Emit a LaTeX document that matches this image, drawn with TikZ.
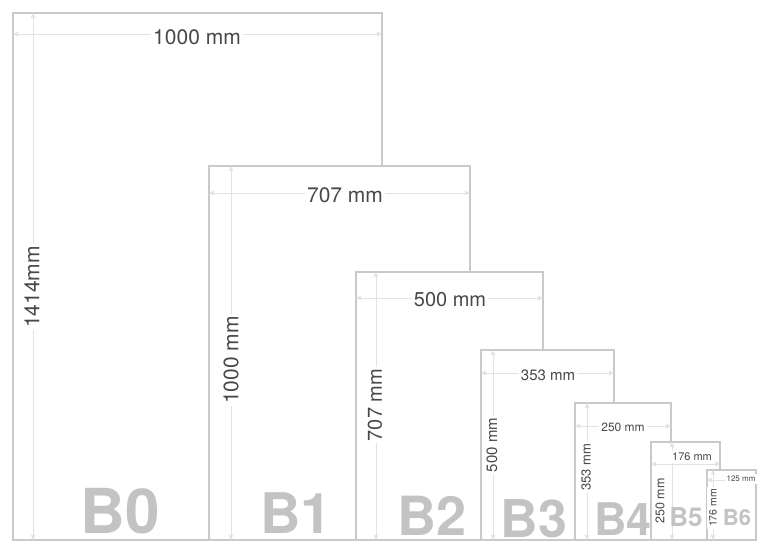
\documentclass[tikz,border=0pt]{standalone}
\usepackage{fontspec}
\setmainfont{TeX Gyre Heros}
\usepackage{tikz}
\usetikzlibrary{arrows,positioning}

\definecolor{sheetgray}{HTML}{C9C9C9}
\definecolor{dimgray}{HTML}{E2E2E2}
\definecolor{textgray}{HTML}{484848}
\definecolor{namegray}{HTML}{C3C3C3}
\newcommand{\fsz}[1]{\fontsize{#1}{#1}\selectfont}

\begin{document}
\begin{tikzpicture}[x=1pt,y=-1pt,sheet/.style={draw=sheetgray, fill=white, line width=1.3pt}]
        \tikzstyle{dimline} = [draw=dimgray, line width=0.9pt, <->, >=stealth']
        \tikzstyle{dimtext} = [fill=white, text=textgray, inner sep=2pt]
        \tikzstyle{sizename} = [text=namegray, anchor=base, inner sep=0pt]
        \useasboundingbox (0,0) rectangle (768,552);

        % B0
        \draw[sheet] (13,13) rectangle (382,540);
        \coordinate (b0l) at (13,34);
        \coordinate (b0r) at (382,34);
        \coordinate (b0t) at (33,13);
        \coordinate (b0b) at (33,540);
        \draw[dimline] (b0l) -- (b0r);
        \draw[dimline] (b0t) -- (b0b);
        \node[dimtext, font=\fsz{21}] (b0w) at (197,37) {1000 mm};
        \node[dimtext, font=\fsz{21}, rotate=90] (b0h) at (32,287) {1414mm};
        \node[sizename, font=\bfseries\fsz{62}] (b0) at (120,533) {B0};

        % B1
        \draw[sheet] (209,166) rectangle (470,540);
        \coordinate (b1l) at (209,193);
        \coordinate (b1r) at (470,193);
        \coordinate (b1t) at (231,166);
        \coordinate (b1b) at (231,540);
        \draw[dimline] (b1l) -- (b1r);
        \draw[dimline] (b1t) -- (b1b);
        \node[dimtext, font=\fsz{21}] (b1w) at (345,195) {707 mm};
        \node[dimtext, font=\fsz{21}, rotate=90] (b1h) at (231,360) {1000 mm};
        \node[sizename, font=\bfseries\fsz{56}] (b1) at (296,533) {B1};

        % B2
        \draw[sheet] (356,272) rectangle (543,540);
        \coordinate (b2l) at (356,298);
        \coordinate (b2r) at (543,298);
        \coordinate (b2t) at (376,272);
        \coordinate (b2b) at (376,540);
        \draw[dimline] (b2l) -- (b2r);
        \draw[dimline] (b2t) -- (b2b);
        \node[dimtext, font=\fsz{20}] (b2w) at (450,300) {500 mm};
        \node[dimtext, font=\fsz{20}, rotate=90] (b2h) at (375,405) {707 mm};
        \node[sizename, font=\bfseries\fsz{54}] (b2) at (432,535) {B2};

        % B3
        \draw[sheet] (481,350) rectangle (614,540);
        \coordinate (b3l) at (481,373);
        \coordinate (b3r) at (614,373);
        \coordinate (b3t) at (493,350);
        \coordinate (b3b) at (493,540);
        \draw[dimline] (b3l) -- (b3r);
        \draw[dimline] (b3t) -- (b3b);
        \node[dimtext, font=\fsz{15}] (b3w) at (548,375) {353 mm};
        \node[dimtext, font=\fsz{15}, rotate=90] (b3h) at (492,445) {500 mm};
        \node[sizename, font=\bfseries\fsz{52}] (b3) at (534,537) {B3};

        % B4
        \draw[sheet] (575,403) rectangle (671,540);
        \coordinate (b4l) at (575,426);
        \coordinate (b4r) at (671,426);
        \coordinate (b4t) at (587,403);
        \coordinate (b4b) at (587,540);
        \draw[dimline] (b4l) -- (b4r);
        \draw[dimline] (b4t) -- (b4b);
        \node[dimtext, font=\fsz{12}] (b4w) at (623,427) {250 mm};
        \node[dimtext, font=\fsz{13}, rotate=90] (b4h) at (586,467) {353 mm};
        \node[sizename, font=\bfseries\fsz{45}] (b4) at (623,535) {B4};

        % B5
        \draw[sheet] (651,442) rectangle (720,540);
        \coordinate (b5l) at (651,464);
        \coordinate (b5r) at (720,464);
        \coordinate (b5t) at (672,442);
        \coordinate (b5b) at (672,540);
        \draw[dimline] (b5l) -- (b5r);
        \draw[dimline] (b5t) -- (b5b);
        \node[dimtext, font=\fsz{11}] (b5w) at (692,457) {176 mm};
        \node[dimtext, font=\fsz{12.5}, rotate=90] (b5h) at (660,501) {250 mm};
        \node[sizename, font=\bfseries\fsz{26}] (b5) at (686,526) {B5};

        % B6
        \draw[sheet] (707,470) rectangle (756,540);
        \coordinate (b6l) at (707,480);
        \coordinate (b6r) at (756,480);
        \coordinate (b6t) at (713,470);
        \coordinate (b6b) at (713,540);
        \draw[dimline] (b6l) -- (b6r);
        \draw[dimline] (b6t) -- (b6b);
        \node[dimtext, font=\fsz{8}] (b6w) at (741,479) {125 mm};
        \node[dimtext, font=\fsz{10.5}, rotate=90] (b6h) at (713,508) {176 mm};
        \node[sizename, font=\bfseries\fsz{22}] (b6) at (737,525) {B6};
\end{tikzpicture}
\end{document}
